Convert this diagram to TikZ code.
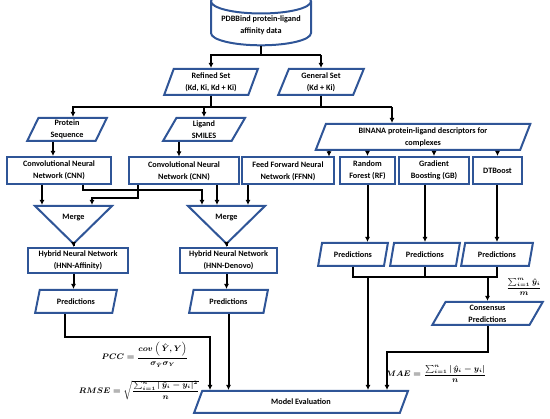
\documentclass[tikz,border=0pt]{standalone}
\usepackage{amsmath}
\usepackage{fontspec}
\setmainfont{Carlito}
\usepackage{tikz}
\usetikzlibrary{
    arrows.meta,
    shapes,
    calc,
    positioning
}
\definecolor{boxblue}{HTML}{2F5597}

\begin{document}
\begin{tikzpicture}[x=1pt, y=-1pt,
    every node/.style={font=\fontsize{8.2}{12}\selectfont\bfseries, align=center, inner sep=1pt},
    box/.style={draw=boxblue, line width=2pt, rectangle, minimum height=27pt},
    data/.style={draw=boxblue, line width=2pt, trapezium, trapezium left angle=72, trapezium right angle=108, trapezium stretches=true, minimum height=23pt},
    db/.style={draw=boxblue, line width=2pt, cylinder, shape border rotate=90, aspect=0.3, minimum width=100pt, minimum height=36pt},
    merge/.style={draw=boxblue, line width=2pt, isosceles triangle, isosceles triangle stretches, shape border rotate=-90, minimum width=77pt, minimum height=29pt},
    formula/.style={font=\fontsize{7.8}{9}\selectfont\boldmath},
    wire/.style={line width=2pt},
    link/.style={wire, -{Latex[length=5pt, width=5pt]}}]
    \useasboundingbox (0, 0) rectangle (550, 419);

    % data sources
    \node[db] (pdb) at (261, 25) {PDBBind protein-ligand\\affinity data};
    \node[data, minimum width=94pt, minimum height=26pt] (refined) at (211, 82) {Refined Set\\(Kd, Ki, Kd + Ki)};
    \node[data, minimum width=86pt, minimum height=26pt] (general) at (321, 82) {General Set\\(Kd + Ki)};
    \node[data, minimum width=80pt] (protein) at (67, 129.5) {Protein\\Sequence};
    \node[data, minimum width=82pt] (ligand) at (204, 129.5) {Ligand\\SMILES};
    \node[data, minimum width=215pt, minimum height=26pt] (binana) at (423, 137) {BINANA protein-ligand descriptors for\\complexes};

    % models
    \node[box, minimum width=104pt] (cnnp) at (59, 170.5) {Convolutional Neural\\Network (CNN)};
    \node[box, minimum width=110pt] (cnnl) at (184, 171) {Convolutional Neural\\Network (CNN)};
    \node[box, minimum width=92pt] (ffnn) at (288, 171) {Feed Forward Neural\\Network (FFNN)};
    \node[box, minimum width=55pt] (rf) at (367.5, 170.5) {Random\\Forest (RF)};
    \node[box, minimum width=70pt] (gb) at (434, 170.5) {Gradient\\Boosting (GB)};
    \node[box, minimum width=49pt] (dt) at (497.5, 170.5) {DTBoost};
    \node[merge] (mergea) at (73.5, 217.5) {Merge};
    \node[merge] (mergeb) at (226.5, 217.5) {Merge};
    \node[box, minimum width=100pt, minimum height=25pt] (hnna) at (78, 260.5) {Hybrid Neural Network\\(HNN-Affinity)};
    \node[box, minimum width=97pt, minimum height=25pt] (hnnd) at (228.5, 260.5) {Hybrid Neural Network\\(HNN-Denovo)};

    % predictions
    \node[data, minimum width=82pt] (preda) at (76, 301.5) {Predictions};
    \node[data, minimum width=79pt] (predd) at (228.5, 301.5) {Predictions};
    \node[data, minimum width=70pt] (predrf) at (353, 254.5) {Predictions};
    \node[data, minimum width=70pt] (predgb) at (425, 254.5) {Predictions};
    \node[data, minimum width=72pt] (preddt) at (497, 254.5) {Predictions};
    \node[data, minimum width=111pt] (cons) at (487.5, 313.5) {Consensus\\Predictions};
    \node[data, minimum width=214pt, minimum height=22pt] (eval) at (301, 402) {Model Evaluation};

    % metrics
    \node[formula] (conseq) at (524, 287) {$\dfrac{\sum_{i=1}^{m}\hat{y}_i}{m}$};
    \node[formula] (pcc) at (145, 355) {$PCC = \dfrac{cov\left(\,\hat{Y},Y\right)}{\sigma_{\hat{Y}}\sigma_{Y}}$};
    \node[formula] (rmse) at (139, 390) {$RMSE = \sqrt{\dfrac{\sum_{i=1}^{n}|\,\hat{y}_i - y_i|^2}{n}}$};
    \node[formula] (mae) at (436, 374) {$MAE = \dfrac{\sum_{i=1}^{n}|\,\hat{y}_i - y_i|}{n}$};

    % junctions
    \coordinate (busa) at (0, 55);
    \coordinate (busb) at (0, 107);
    \coordinate (busc) at (0, 277);
    \coordinate (bintop) at ([xshift=-31pt]binana.north);
    \coordinate (pin) at ([xshift=-14pt]protein.south);
    \coordinate (lin) at ([xshift=-25pt]ligand.south);
    \coordinate (ffnnin) at ([xshift=-6pt]ffnn.north east);
    \coordinate (pa) at ([xshift=-17pt]cnnp.south);
    \coordinate (pb) at ([xshift=24pt]cnnp.south);
    \coordinate (pc) at ([xshift=-46pt]cnnl.south);
    \coordinate (pd) at ([xshift=33pt]cnnl.south);
    \coordinate (pe) at ([xshift=-40pt]ffnn.south);
    \coordinate (ma) at ([xshift=18.5pt]mergea.north);
    \coordinate (mb) at ([xshift=-24.5pt]mergeb.north);
    \coordinate (qa) at ([xshift=-11pt]preda.south);
    \coordinate (ea) at ([xshift=-91pt]eval.north);
    \coordinate (ec) at ([xshift=67pt]eval.north);
    \coordinate (ed) at ([xshift=86pt]eval.north);

    % connectors
    \draw[wire] (pdb.south) -- (pdb.south |- busa);
    \draw[link] (general.north |- busa) -| (refined.north);
    \draw[link] (general.north |- busa) -- (general.north);
    \draw[wire] (refined.south) -- (refined.south |- busb);
    \draw[wire] (general.south) -- (general.south |- busb);
    \draw[link] (bintop |- busb) -| ([xshift=6pt]protein.north);
    \draw[link] (ligand.north |- busb) -- (ligand.north);
    \draw[link] (bintop |- busb) -- (bintop);
    \draw[link] (pin) -- (pin |- cnnp.north);
    \draw[link] (lin) -- (lin |- cnnl.north);
    \draw[link] (ffnnin |- binana.south) -- (ffnnin);
    \draw[link] (rf.north |- binana.south) -- (rf.north);
    \draw[link] (gb.north |- binana.south) -- (gb.north);
    \draw[link] (dt.north |- binana.south) -- (dt.north);
    \draw[link] (pa) -- (pa |- mergea.north);
    \draw[link] (pb) -- ++(0, 5) -| (mb);
    \draw[link] (pc) -- ++(0, 13) -| (ma);
    \draw[link] (pd) -- (pd |- mergeb.north);
    \draw[link] (pe) -- (pe |- mergeb.north);
    \draw[link] (mergea.apex) -- (mergea.apex |- hnna.north);
    \draw[link] (mergeb.apex) -- (mergeb.apex |- hnnd.north);
    \draw[link] (mergea.apex |- hnna.south) -- (mergea.apex |- preda.north);
    \draw[link] (mergeb.apex |- hnnd.south) -- (mergeb.apex |- predd.north);
    \draw[link] (qa) -- ++(0, 23) -| (ea);
    \draw[link] (predd.south) -- (predd.south |- eval.north);
    \draw[link] (rf.south) -- (rf.south |- predrf.north);
    \draw[link] (predgb.north |- gb.south) -- (predgb.north);
    \draw[link] (preddt.north |- dt.south) -- (preddt.north);
    \draw[wire] (predrf.south) -- (predrf.south |- busc) -- (preddt.south |- busc) -- (preddt.south);
    \draw[wire] (predgb.south) -- (predgb.south |- busc);
    \draw[link] (ec |- busc) -- (ec);
    \draw[link] (cons.north |- busc) -- (cons.north);
    \draw[link] (cons.south) -- ++(0, 26) -| (ed);
\end{tikzpicture}
\end{document}
